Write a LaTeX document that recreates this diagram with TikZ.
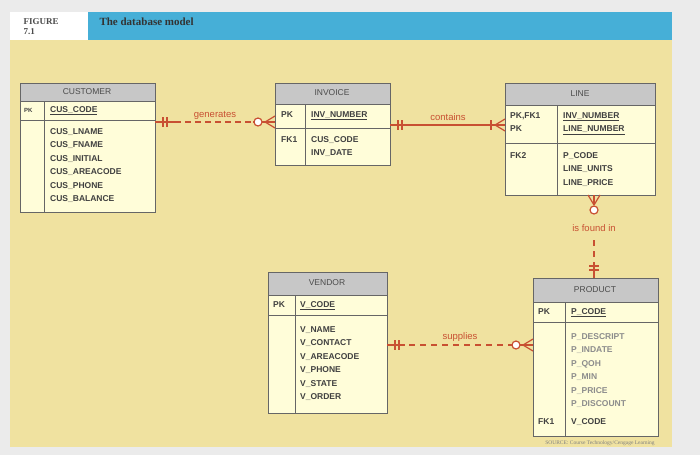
\documentclass[tikz,border=0pt]{standalone}
\usepackage{fontspec}
\setmainfont{Liberation Sans}
\newfontfamily\serifit{Liberation Serif}
\begin{document}
\begin{tikzpicture}[x=1pt,y=-1pt,
  box/.style={draw=black!60,line width=1pt},
  hdr/.style={draw=black!60,line width=1pt,fill=black!22},
  cell/.style={draw=black!60,line width=1pt,fill=white!85!yellow},
  fld/.style={font=\bfseries\fontsize{8.5}{13.5}\selectfont,text=black!75,align=left,anchor=north west,inner sep=0pt},
  ttl/.style={font=\fontsize{8.5}{9}\selectfont,text=black!70},
  rel/.style={draw=relc,line width=1.2pt},
  lbl/.style={font=\fontsize{9.5}{10}\selectfont,text=relc}]
\definecolor{relc}{RGB}{200,80,50}
\definecolor{bgy}{RGB}{240,226,160}
\definecolor{band}{RGB}{70,175,215}
\useasboundingbox (0,0) rectangle (700,455);
\fill[black!8] (0,0) rectangle (700,455);
\fill[bgy] (10,40) rectangle (672,447);
\fill[band] (88,12) rectangle (672,40);
\fill[white] (10,12) rectangle (88,40);
\node[anchor=west,font=\serifit\bfseries\fontsize{9}{10}\selectfont,align=left,text=black!70] (fig) at (20,27) {FIGURE\\7.1};
\node[anchor=west,font=\serifit\bfseries\fontsize{11}{12}\selectfont,text=black!80] (tit) at (96,22) {The database model};
% CUSTOMER
\draw[hdr] (20,83) rectangle (155,101);
\node[ttl] (cust) at (87,92) {CUSTOMER};
\draw[cell] (20,101) rectangle (155,212);
\draw[box] (20,120) -- (155,120) (44,101) -- (44,212);
\node[fld,font=\bfseries\fontsize{6}{7}\selectfont] (cpk) at (24,108) {PK};
\node[fld] (cpkf) at (50,106) {\underline{CUS\_CODE}};
\node[fld] (cf) at (50,128) {CUS\_LNAME\\CUS\_FNAME\\CUS\_INITIAL\\CUS\_AREACODE\\CUS\_PHONE\\CUS\_BALANCE};
\coordinate (custR) at (155,122);
% INVOICE
\draw[hdr] (275,83) rectangle (390,104);
\node[ttl] (inv) at (332,93) {INVOICE};
\draw[cell] (275,104) rectangle (390,165);
\draw[box] (275,128) -- (390,128) (305,104) -- (305,165);
\node[fld] (ipk) at (281,111) {PK};
\node[fld] (ipkf) at (311,111) {\underline{INV\_NUMBER}};
\node[fld] (ifk) at (281,136) {FK1};
\node[fld] (if) at (311,136) {CUS\_CODE\\INV\_DATE};
\coordinate (invL) at (275,122);
\coordinate (invR) at (390,125);
% LINE
\draw[hdr] (505,83) rectangle (655,105);
\node[ttl] (line) at (580,94) {LINE};
\draw[cell] (505,105) rectangle (655,195);
\draw[box] (505,143) -- (655,143) (557,105) -- (557,195);
\node[fld] (lpk) at (510,112) {PK,FK1\\PK};
\node[fld] (lpkf) at (563,112) {\underline{INV\_NUMBER}\\\underline{LINE\_NUMBER}};
\node[fld] (lfk) at (510,152) {FK2};
\node[fld] (lf) at (563,152) {P\_CODE\\LINE\_UNITS\\LINE\_PRICE};
\coordinate (lineL) at (505,125);
\coordinate (lineB) at (594,195);
% VENDOR
\draw[hdr] (268,272) rectangle (387,295);
\node[ttl] (ven) at (327,283) {VENDOR};
\draw[cell] (268,295) rectangle (387,413);
\draw[box] (268,315) -- (387,315) (295,295) -- (295,413);
\node[fld] (vpk) at (273,301) {PK};
\node[fld] (vpkf) at (300,301) {\underline{V\_CODE}};
\node[fld] (vf) at (300,326) {V\_NAME\\V\_CONTACT\\V\_AREACODE\\V\_PHONE\\V\_STATE\\V\_ORDER};
\coordinate (venR) at (387,345);
% PRODUCT
\draw[hdr] (533,278) rectangle (658,302);
\node[ttl] (prod) at (595,290) {PRODUCT};
\draw[cell] (533,302) rectangle (658,436);
\draw[box] (533,322) -- (658,322) (565,302) -- (565,436);
\node[fld] (ppk) at (538,308) {PK};
\node[fld] (ppkf) at (571,308) {\underline{P\_CODE}};
\node[fld,text=black!45] (pf) at (571,333) {P\_DESCRIPT\\P\_INDATE\\P\_QOH\\P\_MIN\\P\_PRICE\\P\_DISCOUNT};
\node[fld] (pfk) at (538,418) {FK1};
\node[fld] (pfkf) at (571,418) {V\_CODE};
\coordinate (prodL) at (533,345);
\coordinate (prodT) at (594,278);
% generates
\draw[rel,dash pattern=on 6pt off 4pt] ([xshift=20]custR) -- ([xshift=-22]invL);
\draw[rel] (custR) -- ([xshift=20]custR);
\draw[rel] ([xshift=8]custR) ++(0,-5) -- ++(0,10);
\draw[rel] ([xshift=12]custR) ++(0,-5) -- ++(0,10);
\draw[rel] ([xshift=-22]invL) -- (invL);
\draw[rel,fill=white] ([xshift=-17]invL) circle (4);
\draw[rel] ([xshift=-10]invL) -- ([yshift=6]invL) ([xshift=-10]invL) -- ([yshift=-6]invL);
\node[lbl] (gen) at (215,115) {generates};
% contains
\draw[rel] (invR) -- (lineL);
\draw[rel] ([xshift=8]invR) ++(0,-5) -- ++(0,10);
\draw[rel] ([xshift=12]invR) ++(0,-5) -- ++(0,10);
\draw[rel] ([xshift=-14]lineL) ++(0,-5) -- ++(0,10);
\draw[rel] ([xshift=-10]lineL) -- ([yshift=6]lineL) ([xshift=-10]lineL) -- ([yshift=-6]lineL);
\node[lbl] (con) at (448,117) {contains};
% is found in
\draw[rel] (lineB) -- ++(0,10);
\draw[rel] ([yshift=-10]lineB) -- ([xshift=-6]lineB) ([yshift=-10]lineB) -- ([xshift=6]lineB);
\draw[rel,fill=white] ([yshift=-15]lineB) circle (4);
\node[lbl] (fnd) at (594,228) {is found in};
\draw[rel,dash pattern=on 6pt off 5pt] (594,240) -- ([yshift=10]prodT);
\draw[rel] ([yshift=10]prodT) -- (prodT);
\draw[rel] ([yshift=8]prodT) ++(-5,0) -- ++(10,0);
\draw[rel] ([yshift=12]prodT) ++(-5,0) -- ++(10,0);
% supplies
\draw[rel] (venR) -- ([xshift=18]venR);
\draw[rel] ([xshift=8]venR) ++(0,-5) -- ++(0,10);
\draw[rel] ([xshift=12]venR) ++(0,-5) -- ++(0,10);
\draw[rel,dash pattern=on 6pt off 5pt] ([xshift=22]venR) -- ([xshift=-22]prodL);
\draw[rel] ([xshift=-22]prodL) -- (prodL);
\draw[rel,fill=white] ([xshift=-17]prodL) circle (4);
\draw[rel] ([xshift=-10]prodL) -- ([yshift=6]prodL) ([xshift=-10]prodL) -- ([yshift=-6]prodL);
\node[lbl] (sup) at (460,337) {supplies};
\node[font=\serifit\fontsize{5.5}{6}\selectfont,text=black!50] (src) at (600,443) {SOURCE: Course Technology/Cengage Learning};
\end{tikzpicture}
\end{document}
